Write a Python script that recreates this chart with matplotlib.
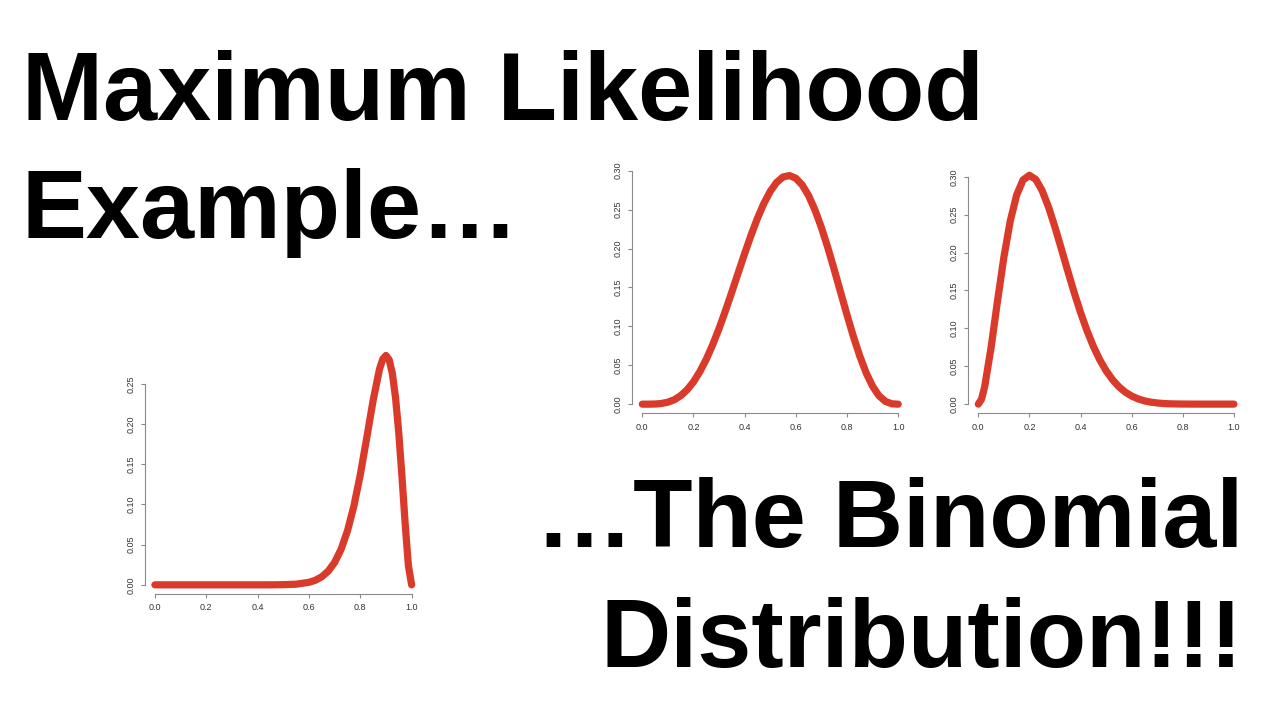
import matplotlib
matplotlib.use("Agg")
import matplotlib.pyplot as plt

# likelihood curves
x_left = [0.0, 0.1, 0.2, 0.3, 0.4, 0.45, 0.5, 0.55, 0.6, 0.625, 0.65, 0.675, 0.7,
          0.725, 0.75, 0.775, 0.8, 0.825, 0.85, 0.875, 0.8875, 0.9, 0.9125, 0.925,
          0.9375, 0.95, 0.9625, 0.975, 0.9875, 1.0]
y_left = [0.0, 0.0, 0.0, 0.0, 0.0, 0.0, 0.0002, 0.0008, 0.0031, 0.0057, 0.0100, 0.0170,
          0.0278, 0.0440, 0.0670, 0.0978, 0.1369, 0.1824, 0.2293, 0.2684, 0.2806,
          0.2852, 0.2799, 0.2627, 0.2323, 0.1887, 0.1343, 0.0753, 0.0237, 0.0]

x_mid = [0.0, 0.025, 0.05, 0.075, 0.1, 0.125, 0.15, 0.175, 0.2, 0.225, 0.25, 0.275,
         0.3, 0.325, 0.35, 0.375, 0.4, 0.425, 0.45, 0.475, 0.5, 0.525, 0.55, 0.575,
         0.6, 0.625, 0.65, 0.675, 0.7, 0.725, 0.75, 0.775, 0.8, 0.825, 0.85, 0.875,
         0.9, 0.925, 0.95, 0.975, 1.0]
y_mid = [0.0, 0.0000, 0.0002, 0.0009, 0.0026, 0.0057, 0.0109, 0.0184, 0.0287, 0.0418,
         0.0577, 0.0763, 0.0972, 0.1201, 0.1442, 0.1690, 0.1935, 0.2171, 0.2388,
         0.2578, 0.2734, 0.2850, 0.2919, 0.2937, 0.2903, 0.2816, 0.2679, 0.2494,
         0.2269, 0.2011, 0.1730, 0.1438, 0.1147, 0.0869, 0.0617, 0.0401, 0.0230,
         0.0108, 0.0036, 0.0005, 0.0]

x_right = [0.0, 0.0125, 0.025, 0.05, 0.075, 0.1, 0.125, 0.15, 0.175, 0.2, 0.225, 0.25,
           0.275, 0.3, 0.325, 0.35, 0.375, 0.4, 0.425, 0.45, 0.475, 0.5, 0.525, 0.55,
           0.575, 0.6, 0.625, 0.65, 0.675, 0.7, 0.725, 0.75, 0.775, 0.8, 0.85, 0.9,
           0.95, 1.0]
y_right = [0.0, 0.0064, 0.0230, 0.0746, 0.1357, 0.1937, 0.2416, 0.2759, 0.2958, 0.3020,
           0.2965, 0.2816, 0.2598, 0.2335, 0.2048, 0.1757, 0.1473, 0.1209, 0.0971,
           0.0763, 0.0586, 0.0440, 0.0322, 0.0229, 0.0158, 0.0106, 0.0069, 0.0043,
           0.0026, 0.0015, 0.0008, 0.0004, 0.0002, 0.0001, 0.0, 0.0, 0.0, 0.0]

x_ticks = [0.0, 0.2, 0.4, 0.6, 0.8, 1.0]
y_ticks_left = [0.0, 0.05, 0.10, 0.15, 0.20, 0.25]
y_ticks_other = [0.0, 0.05, 0.10, 0.15, 0.20, 0.25, 0.30]

RED = "#D93A2A"
AXIS_GREY = "#8a8a8a"


def r_style_axes(fig, rect, xs, ys, yticks, ylim):
    ax = fig.add_axes(rect)
    ax.plot(xs, ys, color=RED, lw=5.2, solid_capstyle="round", solid_joinstyle="round")
    ax.set_xlim(-0.04, 1.04)
    ax.set_ylim(*ylim)
    ax.spines["top"].set_visible(False)
    ax.spines["right"].set_visible(False)
    for side in ("left", "bottom"):
        ax.spines[side].set_color(AXIS_GREY)
        ax.spines[side].set_linewidth(0.8)
    ax.spines["bottom"].set_bounds(0.0, 1.0)
    ax.spines["left"].set_bounds(yticks[0], yticks[-1])
    ax.set_xticks(x_ticks)
    ax.set_xticklabels([f"{t:.1f}" for t in x_ticks])
    ax.set_yticks(yticks)
    ax.set_yticklabels([f"{t:.2f}" for t in yticks], rotation=90, va="center")
    ax.tick_params(length=3.2, width=0.8, color=AXIS_GREY, labelsize=6.5,
                   labelcolor="#333333", pad=3.5)
    return ax


def main() -> None:
    plt.rcParams["font.family"] = ["Liberation Sans", "DejaVu Sans"]
    fig = plt.figure(figsize=(12.8, 7.2), dpi=100)

    r_style_axes(fig, [0.1130, 0.1750, 0.2166, 0.3438], x_left, y_left,
                 y_ticks_left, (-0.0114, 0.2964))
    r_style_axes(fig, [0.4938, 0.4260, 0.2159, 0.3429], x_mid, y_mid,
                 y_ticks_other, (-0.0117, 0.3055))
    r_style_axes(fig, [0.7563, 0.4260, 0.2157, 0.3433], x_right, y_right,
                 y_ticks_other, (-0.0121, 0.3141))

    big = dict(fontsize=70, fontweight="bold", color="black", va="baseline")
    fig.text(22 / 1280, 1 - 120 / 720, "Maximum Likelihood", ha="left", **big)
    fig.text(22 / 1280, 1 - 238 / 720, "Example…", ha="left", **big)
    fig.text(1243 / 1280, 1 - 547 / 720, "…The Binomial", ha="right", **big)
    fig.text(1243 / 1280, 1 - 667 / 720, "Distribution!!!", ha="right", **big)

    fig.savefig("out.png", dpi=100, facecolor="white")


if __name__ == "__main__":
    main()
